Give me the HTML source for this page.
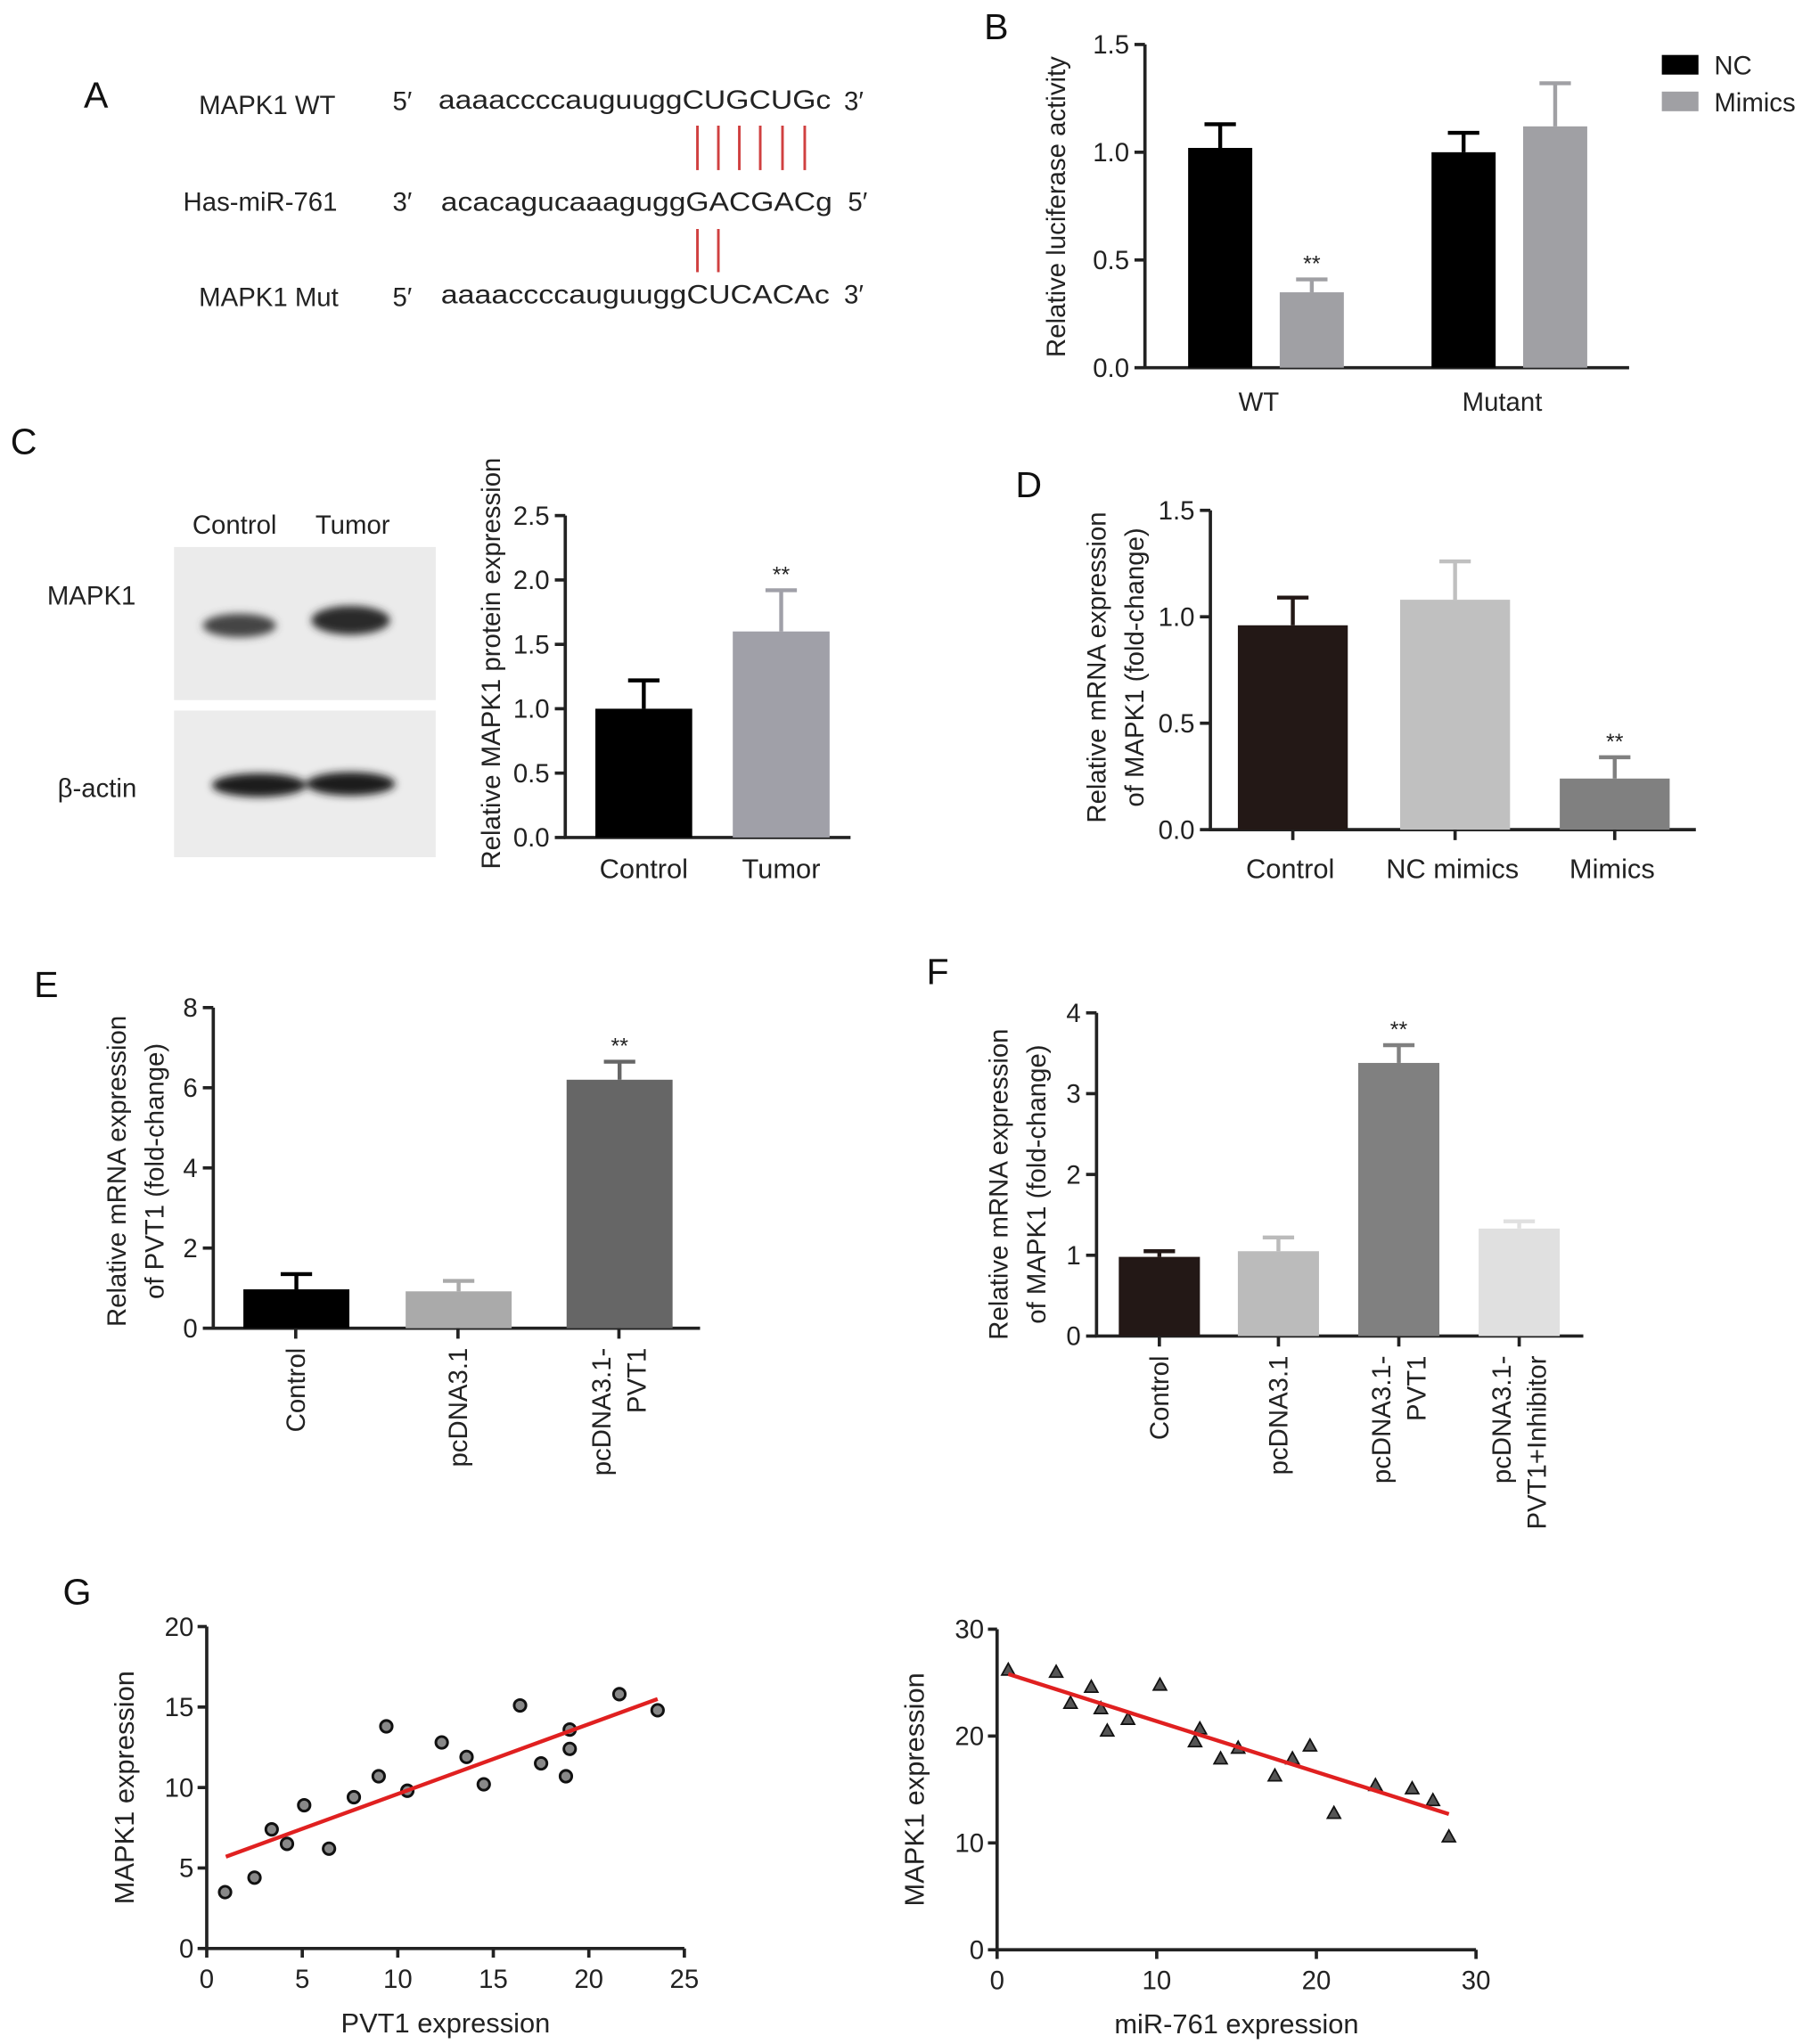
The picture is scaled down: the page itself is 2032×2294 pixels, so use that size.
<!DOCTYPE html>
<html><head><meta charset="utf-8"><style>
html,body{margin:0;padding:0;background:#fff;}
svg{display:block;font-family:"Liberation Sans",Arial,sans-serif;}
</style></head><body>
<svg id="fig" width="2032" height="2294" viewBox="0 0 1384 1562" preserveAspectRatio="none" xmlns="http://www.w3.org/2000/svg">
<defs>
<filter id="blur" x="-30%" y="-60%" width="160%" height="220%"><feGaussianBlur stdDeviation="3"/></filter>
</defs>
<rect width="1384" height="1562" fill="#fff"/>
<g font-size="28" fill="#111">
<text x="64" y="82">A</text>
<text x="752" y="30">B</text>
<text x="8" y="347">C</text>
<text x="776" y="380">D</text>
<text x="26" y="762">E</text>
<text x="708" y="752">F</text>
<text x="48" y="1226">G</text>
</g>
<g id="panelA" font-size="20" fill="#222">
<text x="152" y="87">MAPK1 WT</text><text x="300" y="84">5′</text><text x="335" y="83" textLength="300" lengthAdjust="spacingAndGlyphs">aaaaccccauguuggCUGCUGc</text><text x="645" y="84">3′</text>
<text x="140" y="161">Has-miR-761</text><text x="300" y="161">3′</text><text x="337" y="161" textLength="299" lengthAdjust="spacingAndGlyphs">acacagucaaaguggGACGACg</text><text x="648" y="161">5′</text>
<text x="152" y="234">MAPK1 Mut</text><text x="300" y="234">5′</text><text x="337" y="232" textLength="297" lengthAdjust="spacingAndGlyphs">aaaaccccauguuggCUCACAc</text><text x="645" y="232">3′</text>
<g stroke="#d04040" stroke-width="2">
<line x1="533" y1="96" x2="533" y2="130"/><line x1="549" y1="96" x2="549" y2="130"/><line x1="565" y1="96" x2="565" y2="130"/><line x1="581" y1="96" x2="581" y2="130"/><line x1="598" y1="96" x2="598" y2="130"/><line x1="615" y1="96" x2="615" y2="130"/>
<line x1="533" y1="175" x2="533" y2="208"/><line x1="549" y1="175" x2="549" y2="208"/>
</g></g>
<g id="blot">
<text x="147" y="408" font-size="20" fill="#222">Control</text><text x="241" y="408" font-size="20" fill="#222">Tumor</text>
<text x="36" y="462" font-size="20" fill="#222">MAPK1</text><text x="44" y="609" font-size="20" fill="#222">β-actin</text>
<rect x="133" y="418" width="200" height="117" fill="#ebebeb"/>
<rect x="133" y="543" width="200" height="112" fill="#ececec"/>
<g filter="url(#blur)">
<ellipse cx="183" cy="478" rx="28" ry="9" fill="#444"/>
<ellipse cx="268" cy="474" rx="30" ry="11" fill="#2a2a2a"/>
<ellipse cx="198" cy="600" rx="36" ry="9" fill="#1a1a1a"/>
<ellipse cx="268" cy="599" rx="34" ry="9" fill="#1a1a1a"/>
</g>
</g>
<g id="charts"></g>
</svg>
<script>
// Panel B data
const bCats = ['WT','Mutant'];
const bNC = [1.02, 1.00];
const bNCerr = [0.11, 0.09];
const bMim = [0.35, 1.12];
const bMimErr = [0.06, 0.20];
// Panel C
const cCats = ['Control','Tumor'];
const cVals = [1.0, 1.6];
const cErr = [0.22, 0.32];
// Panel D
const dCats = ['Control','NC mimics','Mimics'];
const dVals = [0.96, 1.08, 0.24];
const dErr = [0.13, 0.18, 0.10];
// Panel E
const eCats = [['Control'],['pcDNA3.1'],['pcDNA3.1-','PVT1']];
const eVals = [0.97, 0.92, 6.2];
const eErr = [0.38, 0.26, 0.45];
// Panel F
const fCats = [['Control'],['pcDNA3.1'],['pcDNA3.1-','PVT1'],['pcDNA3.1-','PVT1+Inhibitor']];
const fVals = [0.98, 1.05, 3.38, 1.33];
const fErr = [0.07, 0.17, 0.22, 0.09];
// Panel G
const g1x = [0.96,2.5,3.4,4.2,5.1,6.4,7.7,9.0,9.4,10.5,12.3,13.6,14.5,16.4,17.5,18.8,19.0,19.0,21.6,23.6];
const g1y = [3.5,4.4,7.4,6.5,8.9,6.2,9.4,10.7,13.8,9.8,12.8,11.9,10.2,15.1,11.5,10.7,13.6,12.4,15.8,14.8];
const g1fit = [[1,5.7],[23.6,15.5]];
const g2x = [0.7,3.7,4.6,5.9,6.5,6.9,8.2,10.2,12.4,12.7,14.0,15.1,17.4,18.5,19.6,21.1,23.7,26.0,27.3,28.3];
const g2y = [26.2,26.0,23.1,24.6,22.6,20.5,21.6,24.8,19.5,20.7,17.9,18.9,16.3,17.9,19.1,12.8,15.4,15.1,14.0,10.6];
const g2fit = [[0.7,25.8],[28.3,12.7]];

const NS='http://www.w3.org/2000/svg';
const root=document.getElementById('charts');
function el(tag,attrs,parent){const e=document.createElementNS(NS,tag);for(const k in attrs)e.setAttribute(k,attrs[k]);(parent||root).appendChild(e);return e;}
function txt(s,attrs,parent){const t=el('text',attrs,parent);t.textContent=s;return t;}

function axisY(g,x,y0,y1,max,ticks,fmt){
  const sc=v=>y0-(y0-y1)*v/max;
  el('line',{x1:x,y1:y0+1,x2:x,y2:y1,stroke:'#222','stroke-width':2.5},g);
  ticks.forEach(v=>{el('line',{x1:x-8,y1:sc(v),x2:x,y2:sc(v),stroke:'#222','stroke-width':2.5},g);
    txt(fmt(v),{x:x-12,y:sc(v)+7,'font-size':20,'text-anchor':'end',fill:'#222'},g);});
  return sc;
}
function ylabel(g,lines,x,cy){lines.forEach((l,i)=>txt(l,{x:0,y:0,'font-size':20,'text-anchor':'middle',fill:'#222',transform:`translate(${x+i*29},${cy}) rotate(-90)`},g));}
function bar(g,name,x,w,sc,v,err,color,stars){
  const b=el('rect',{x:x,y:sc(v),width:w,height:sc(0)-sc(v),fill:color},g);
  
  
  const cx=x+w/2,ye=sc(v+err);
  el('line',{x1:cx,y1:sc(v),x2:cx,y2:ye,stroke:color,'stroke-width':3},g);
  el('line',{x1:cx-12,y1:ye,x2:cx+12,y2:ye,stroke:color,'stroke-width':3},g);
  if(stars) txt('**',{x:cx,y:ye-6,'font-size':17,'text-anchor':'middle',fill:'#222'},g);
}

// B
{const g=el('g',{});
 const sc=axisY(g,875,281,34,1.5,[0,0.5,1.0,1.5],v=>v.toFixed(1));
 el('line',{x1:874,y1:281,x2:1245,y2:281,stroke:'#222','stroke-width':2.5},g);
 const gx=[908,1094];
 bCats.forEach((c,i)=>{bar(g,'bar-nc-'+c.toLowerCase(),gx[i],49,sc,bNC[i],bNCerr[i],'#000',false);
   bar(g,'bar-mimics-'+c.toLowerCase(),gx[i]+70,49,sc,bMim[i],bMimErr[i],'#a0a0a4',i===0);
   txt(c,{x:gx[i]+54,y:314,'font-size':20,'text-anchor':'middle',fill:'#222'},g);});
 ylabel(g,['Relative luciferase activity'],814,158);
 const l=el('g',{},g);
 el('rect',{x:1270,y:42,width:28,height:15,fill:'#000'},l);txt('NC',{x:1310,y:57,'font-size':20,fill:'#222'},l);
 el('rect',{x:1270,y:70,width:28,height:15,fill:'#a0a0a4'},l);txt('Mimics',{x:1310,y:85,'font-size':20,fill:'#222'},l);}
// C
{const g=el('g',{});
 const sc=axisY(g,432,640,394,2.5,[0,0.5,1,1.5,2,2.5],v=>v.toFixed(1));
 el('line',{x1:431,y1:640,x2:650,y2:640,stroke:'#222','stroke-width':2.5},g);
 const xs=[455,560],cols=['#000','#a0a0a8'];
 cCats.forEach((c,i)=>{bar(g,'bar-'+c.toLowerCase(),xs[i],74,sc,cVals[i],cErr[i],cols[i],i===1);
  txt(c,{x:xs[i]+37,y:671,'font-size':21,'text-anchor':'middle',fill:'#222'},g);});
 ylabel(g,['Relative MAPK1 protein expression'],382,507);}
// D
{const g=el('g',{});
 const sc=axisY(g,925,634,390,1.5,[0,0.5,1,1.5],v=>v.toFixed(1));
 el('line',{x1:924,y1:634,x2:1296,y2:634,stroke:'#222','stroke-width':2.5},g);
 const xs=[946,1070,1192],cols=['#231816','#c0c0c0','#808080'];
 dCats.forEach((c,i)=>{bar(g,'bar-'+c.toLowerCase().replace(' ','-'),xs[i],84,sc,dVals[i],dErr[i],cols[i],i===2);
  el('line',{x1:xs[i]+42,y1:634,x2:xs[i]+42,y2:642,stroke:'#222','stroke-width':2.5},g);
  txt(c,{x:xs[i]+40,y:671,'font-size':21,'text-anchor':'middle',fill:'#222'},g);});
 ylabel(g,['Relative mRNA expression','of MAPK1 (fold-change)'],845,510);}
// E
{const g=el('g',{});
 const sc=axisY(g,163,1015,770,8,[0,2,4,6,8],v=>String(v));
 el('line',{x1:162,y1:1015,x2:535,y2:1015,stroke:'#222','stroke-width':2.5},g);
 const xs=[186,310,433],cols=['#000','#aaaaaa','#666666'];
 eCats.forEach((c,i)=>{bar(g,'bar-'+i,xs[i],81,sc,eVals[i],eErr[i],cols[i],i===2);
  const cx=xs[i]+40;el('line',{x1:cx,y1:1015,x2:cx,y2:1023,stroke:'#222','stroke-width':2.5},g);
  c.forEach((s,j)=>txt(s,{x:0,y:0,'font-size':20,'text-anchor':'end',fill:'#222',transform:`translate(${cx+7+(j-(c.length-1)/2)*27},1030) rotate(-90)`},g));});
 ylabel(g,['Relative mRNA expression','of PVT1  (fold-change)'],96,895);}
// F
{const g=el('g',{});
 const sc=axisY(g,838,1021,774,4,[0,1,2,3,4],v=>String(v));
 el('line',{x1:837,y1:1021,x2:1210,y2:1021,stroke:'#222','stroke-width':2.5},g);
 const xs=[855,946,1038,1130],cols=['#231816','#bbbbbb','#808080','#e0e0e0'];
 fCats.forEach((c,i)=>{bar(g,'bar-f-'+i,xs[i],62,sc,fVals[i],fErr[i],cols[i],i===2);
  const cx=xs[i]+31;el('line',{x1:cx,y1:1021,x2:cx,y2:1029,stroke:'#222','stroke-width':2.5},g);
  c.forEach((s,j)=>txt(s,{x:0,y:0,'font-size':20,'text-anchor':'end',fill:'#222',transform:`translate(${cx+7+(j-(c.length-1)/2)*27},1036) rotate(-90)`},g));});
 ylabel(g,['Relative mRNA expression','of MAPK1 (fold-change)'],770,905);}
// G scatters
function scatter(name,X0,X1,xmax,xt,Y0,Y1,ymax,yt,xs,ys,fit,xl,yl,yx,tri){
 const g=el('g',{});
 const sx=v=>X0+(X1-X0)*v/xmax, sy=v=>Y0-(Y0-Y1)*v/ymax;
 el('line',{x1:X0,y1:Y0,x2:X0,y2:Y1,stroke:'#222','stroke-width':2.5},g);
 el('line',{x1:X0,y1:Y0,x2:X1,y2:Y0,stroke:'#222','stroke-width':2.5},g);
 xt.forEach(v=>{el('line',{x1:sx(v),y1:Y0,x2:sx(v),y2:Y0+7,stroke:'#222','stroke-width':2.5},g);txt(String(v),{x:sx(v),y:Y0+30,'font-size':20,'text-anchor':'middle',fill:'#222'},g);});
 yt.forEach(v=>{el('line',{x1:X0-7,y1:sy(v),x2:X0,y2:sy(v),stroke:'#222','stroke-width':2.5},g);txt(String(v),{x:X0-10,y:sy(v)+7,'font-size':20,'text-anchor':'end',fill:'#222'},g);});
 xs.forEach((v,i)=>{const cx=sx(v),cy=sy(ys[i]);let p;
  if(tri){p=el('polygon',{points:`${cx},${cy-5} ${cx-5},${cy+4} ${cx+5},${cy+4}`,fill:'#555',stroke:'#111','stroke-width':1.2},g);}
  else{p=el('circle',{cx:cx,cy:cy,r:4.5,fill:'#888',stroke:'#111','stroke-width':2},g);}
  
  });
 const f=el('line',{x1:sx(fit[0][0]),y1:sy(fit[0][1]),x2:sx(fit[1][0]),y2:sy(fit[1][1]),stroke:'#e02020','stroke-width':3},g);
 
 
 txt(xl,{x:(X0+X1)/2,y:Y0+64,'font-size':21,'text-anchor':'middle',fill:'#222'},g);
 txt(yl,{x:0,y:0,'font-size':21,'text-anchor':'middle',fill:'#222',transform:`translate(${yx},${(Y0+Y1)/2}) rotate(-90)`},g);
}
scatter('scatter-pvt1-mapk1',158,523,25,[0,5,10,15,20,25],1489,1243,20,[0,5,10,15,20],g1x,g1y,g1fit,'PVT1 expression','MAPK1 expression',102,false);
scatter('scatter-mir761-mapk1',762,1128,30,[0,10,20,30],1490,1245,30,[0,10,20,30],g2x,g2y,g2fit,'miR-761 expression','MAPK1 expression',706,true);
</script>
</body></html>
